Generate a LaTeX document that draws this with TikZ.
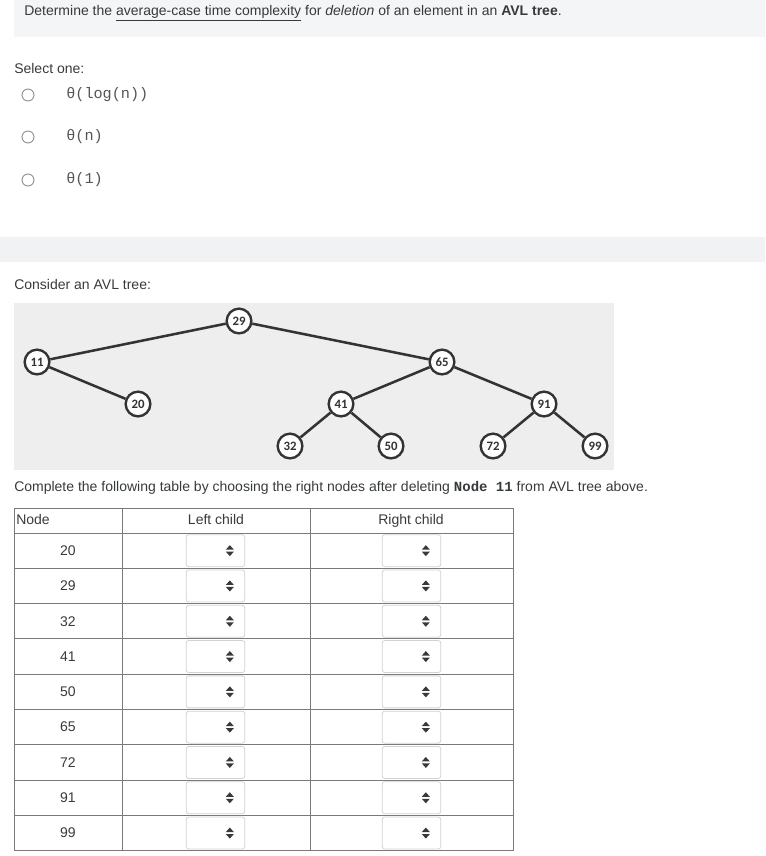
\documentclass[tikz,border=0pt]{standalone}
\usepackage{fontspec}
\setmainfont{Liberation Sans}
\setmonofont{Liberation Mono}
\newfontfamily\treefont{Carlito}
\usetikzlibrary{positioning}
\definecolor{ink}{HTML}{373A3C}
\definecolor{optink}{HTML}{555555}
\definecolor{qboxbg}{HTML}{F3F5F7}
\definecolor{bandbg}{HTML}{F1F2F3}
\definecolor{treebg}{HTML}{EEEEEE}
\definecolor{treeline}{HTML}{333333}
\definecolor{gridline}{HTML}{7A7A7A}
\tikzset{
  txt/.style={anchor=west, inner sep=0pt},
  opt/.style={txt, text=optink, font=\ttfamily\fontsize{11.4}{13}\selectfont},
  radio/.style={circle, draw=gray, line width=0.6pt, minimum size=9pt, inner sep=0pt},
  avl/.style={circle, draw=treeline, line width=1.8pt, fill=white!96!treebg, minimum size=18.5pt,
    inner sep=0pt, text=treeline, font=\treefont\bfseries\fontsize{9.6}{10}\selectfont},
  edge/.style={draw=treeline, line width=1.9pt},
  dropbox/.style={draw=gray!35, fill=white, line width=0.6pt, rounded corners=2pt,
    minimum width=44pt, minimum height=24pt, inner sep=0pt,
    path picture={
      \fill[ink, sharp corners] ([shift={(-19,-1)}]path picture bounding box.east) -- ++(8,0) -- ++(-4,-4.5) -- cycle;
      \fill[ink, sharp corners] ([shift={(-19,1)}]path picture bounding box.east) -- ++(8,0) -- ++(-4,4.5) -- cycle;
    }},
}
\begin{document}
\begin{tikzpicture}[x=0.75pt, y=-0.75pt,
  every node/.style={text=ink, font=\fontsize{10.5}{12.6}\selectfont}]
\useasboundingbox (0,0) rectangle (765,856);

% question
\fill[qboxbg] (14,0) rectangle (765,37);
\node[txt] (question) at (24,13) {Determine the \underline{average-case time complexity} for \textit{deletion} of an element in an \textbf{AVL tree}.};
\node[txt] (selone) at (14,68) {Select one:};
\node[radio] (ra) at (28,95) {};
\node[radio] (rb) at (28,137) {};
\node[radio] (rc) at (28,180) {};
\node[opt] (oa) at (66,95) {θ(log(n))};
\node[opt] (ob) at (66,137) {θ(n)};
\node[opt] (oc) at (66,180) {θ(1)};

\fill[bandbg] (0,237) rectangle (765,262);

% tree
\node[txt] (consider) at (14,284) {Consider an AVL tree:};
\fill[treebg] (14,303) rectangle (614,470);
\node[avl] (n29) at (239,321) {29};
\node[avl] (n11) at (37,362) {11};
\node[avl] (n65) at (442,362) {65};
\node[avl] (n20) at (138,404) {20};
\node[avl] (n41) at (341,404) {41};
\node[avl] (n91) at (544,404) {91};
\node[avl] (n32) at (290,446) {32};
\node[avl] (n50) at (391,446) {50};
\node[avl] (n72) at (493,446) {72};
\node[avl] (n99) at (595,446) {99};
\foreach \a/\b in {29/11, 29/65, 11/20, 65/41, 65/91, 41/32, 41/50, 91/72, 91/99}
  \path[edge] (n\a) -- (n\b);

% table
\node[txt] (complete) at (14,488) {Complete the following table by choosing the right nodes after deleting \texttt{\textbf{Node 11}} from AVL tree above.};
\draw[gridline, line width=0.75pt] (14,508) rectangle (513,850.7);
\foreach \x in {122,310}
  \draw[gridline, line width=0.75pt] (\x,508) -- (\x,850.7);
\foreach \k in {0,...,8}
  \draw[gridline, line width=0.75pt] (14,533+35.3*\k) -- (513,533+35.3*\k);
\node[txt, anchor=base west] (hnode) at (16,524) {Node};
\node[anchor=base] (hleft) at (216,524) {Left child};
\node[anchor=base] (hright) at (411,524) {Right child};
\foreach \v [count=\i] in {20,29,32,41,50,65,72,91,99} {
  \pgfmathsetmacro\yc{533+35.3*(\i-0.5)}
  \node (c\v) at (68,\yc) {\v};
  \node[dropbox] (l\v) at (215.5,\yc) {};
  \node[dropbox] (r\v) at (411.5,\yc) {};
}
\end{tikzpicture}
\end{document}
